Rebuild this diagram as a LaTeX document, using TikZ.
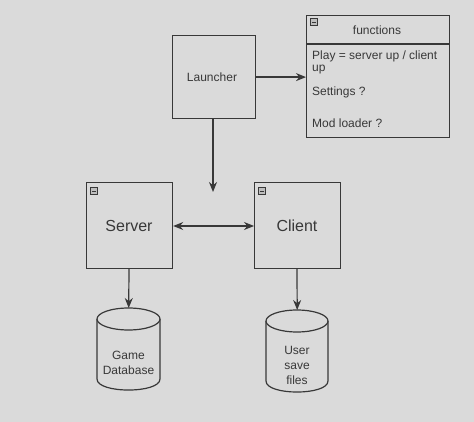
\documentclass[tikz,border=0pt]{standalone}
\usepackage{fontspec}
\setmainfont{Liberation Sans}
\usetikzlibrary{arrows.meta}
\definecolor{bg}{HTML}{DADADA}
\definecolor{ln}{HTML}{383838}
\definecolor{icon}{HTML}{BEBEBE}
\begin{document}
\begin{tikzpicture}[x=1pt,y=-1pt,
  box/.style={draw=ln, line width=1.2pt, fill=bg, inner sep=0pt, anchor=north west},
  small/.style={font=\fontsize{12}{15}\selectfont, text=ln},
  big/.style={font=\fontsize{16}{18}\selectfont, text=ln},
  conn/.style={draw=ln, line width=1.2pt, -{Stealth[length=10pt,width=8pt]}},
  icn/.style={draw=ln, line width=0.5pt, fill=icon, minimum size=7pt, inner sep=0pt},
  cyl/.style={draw=ln, line width=1.2pt, fill=bg}]
\useasboundingbox[fill=bg] (0,0) rectangle (474,422);

% Launcher
\node[box, minimum width=83pt, minimum height=83pt] (launch) at (172,35) {};
\node[small] (launchT) at (212,77) {Launcher};

% functions
\node[box, minimum width=143pt, minimum height=122pt] (func) at (306,15) {};
\draw[draw=ln, line width=1.2pt] (306,44) -- (449,44);
\node[icn] (ficon) at (314,22) {};
\draw[ln, line width=0.9pt] (312,22) -- (316,22);
\node[small] (funcT) at (377,30) {functions};
\node[small, anchor=west, inner sep=0pt] (f1) at (312,56) {Play = server up / client};
\node[small, anchor=west, inner sep=0pt] (f2) at (312,70) {up};
\node[small, anchor=west, inner sep=0pt] (f3) at (312,92) {Settings ?};
\node[small, anchor=west, inner sep=0pt] (f4) at (312,123) {Mod loader ?};

% Server / Client
\node[box, minimum width=86pt, minimum height=86pt] (server) at (86,182) {};
\node[icn] (sicon) at (94,191) {};
\draw[ln, line width=0.9pt] (92,191) -- (96,191);
\node[big] (serverT) at (129,226) {Server};
\node[box, minimum width=86pt, minimum height=86pt] (client) at (254,182) {};
\node[icn] (cicon) at (262,191) {};
\draw[ln, line width=0.9pt] (260,191) -- (264,191);
\node[big] (clientT) at (297,226) {Client};

% Cylinders
\path[cyl] (97,319) -- (97,379) .. controls (97,393.7) and (160,393.7) .. (160,379) -- (160,319);
\draw[cyl] (128.5,319) ellipse [x radius=31.5, y radius=11];
\node[minimum width=63pt, minimum height=82pt, inner sep=0pt, anchor=north west] (db) at (97,308) {};
\node[small, align=center] (dbT) at (128.5,363) {Game\\Database};

\path[cyl] (266,321) -- (266,381) .. controls (266,395.7) and (328,395.7) .. (328,381) -- (328,321);
\draw[cyl] (297,321) ellipse [x radius=31, y radius=11];
\node[minimum width=62pt, minimum height=82pt, inner sep=0pt, anchor=north west] (us) at (266,310) {};
\node[small, align=center] (usT) at (297,365) {User\\save\\files};

% connectors
\coordinate (lend) at (213,192);
\draw[conn] (launch.east) -- (launch.east -| func.west);
\draw[conn] (launch.south -| lend) -- (lend);
\draw[draw=ln, line width=1.2pt, {Stealth[length=10pt,width=8pt]}-{Stealth[length=10pt,width=8pt]}] (server.east |- serverT) -- (client.west |- clientT);
\draw[conn] (server.south -| serverT) -- (db.north);
\draw[conn] (client.south -| clientT) -- (us.north);
\end{tikzpicture}
\end{document}
